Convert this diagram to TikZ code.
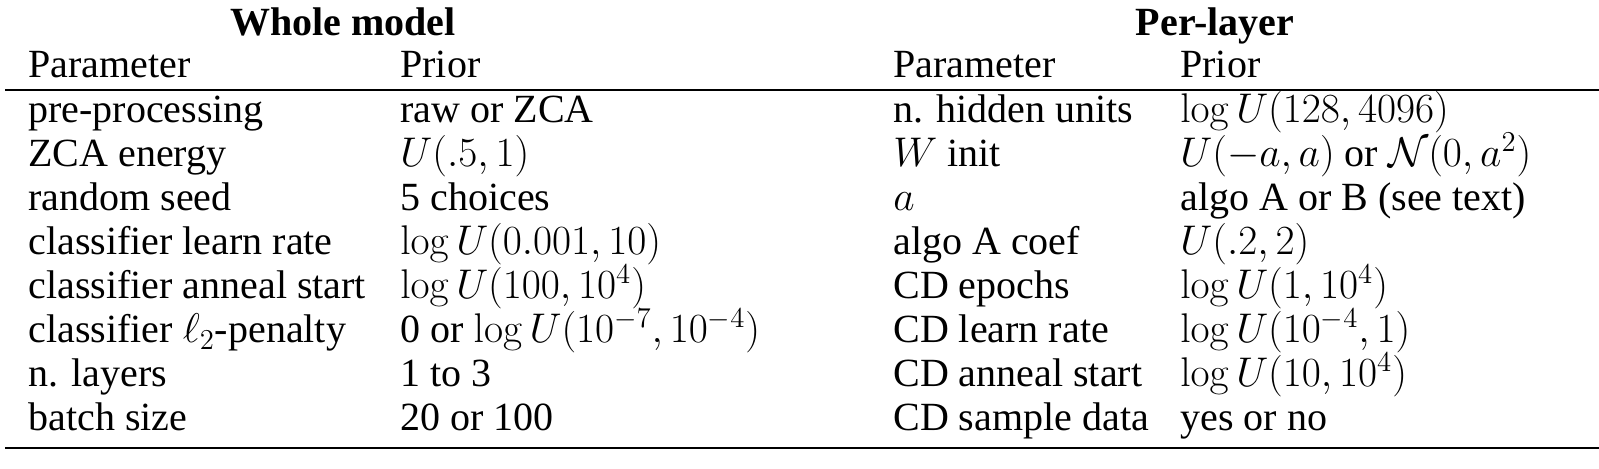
\documentclass[tikz,border=0pt]{standalone}
\usepackage[no-math]{fontspec}
\setmainfont{Liberation Serif}
\DeclareMathSizes{20}{22}{15.5}{11}
\begin{document}
\begin{tikzpicture}[x=0.5pt,y=-0.5pt,
  cell/.style={anchor=base west,inner sep=0pt,font=\fontsize{20}{24}\selectfont},
  head/.style={anchor=base,inner sep=0pt,font=\fontsize{20}{24}\selectfont\bfseries}]
\useasboundingbox (0,0) rectangle (1599,469);
\node[head] (h1) at (343,36) {Whole model};
\node[head] (h2) at (1215,36) {Per-layer};
\node[cell] (p1) at (28,78) {Parameter};
\node[cell] (q1) at (400,78) {Prior};
\node[cell] (p2) at (893,78) {Parameter};
\node[cell] (q2) at (1180,78) {Prior};
\draw[line width=0.9pt] (5,90) -- (1599,90);
\draw[line width=0.9pt] (5,448) -- (1599,448);
\foreach \a/\b/\c/\d [count=\i from 0] in {
 pre-processing/raw or ZCA/n. hidden units/{$\log U(128,4096)$},
 ZCA energy/{$U(.5,1)$}/{$W$ init}/{$U(-a,a)$ or $\mathcal{N}(0,a^2)$},
 random seed/5 choices/{$a$}/algo A or B (see text),
 classifier learn rate/{$\log U(0.001,10)$}/algo A coef/{$U(.2,2)$},
 classifier anneal start/{$\log U(100,10^4)$}/CD epochs/{$\log U(1,10^4)$},
 {classifier $\ell_2$-penalty}/{0 or $\log U(10^{-7},10^{-4})$}/CD learn rate/{$\log U(10^{-4},1)$},
 n. layers/1 to 3/CD anneal start/{$\log U(10,10^4)$},
 batch size/20 or 100/CD sample data/yes or no}{
  \node[cell] (a\i) at (28,123+44*\i) {\a};
  \node[cell] (b\i) at (400,123+44*\i) {\b};
  \node[cell] (c\i) at (893,123+44*\i) {\c};
  \node[cell] (d\i) at (1180,123+44*\i) {\d};
}
\end{tikzpicture}
\end{document}
